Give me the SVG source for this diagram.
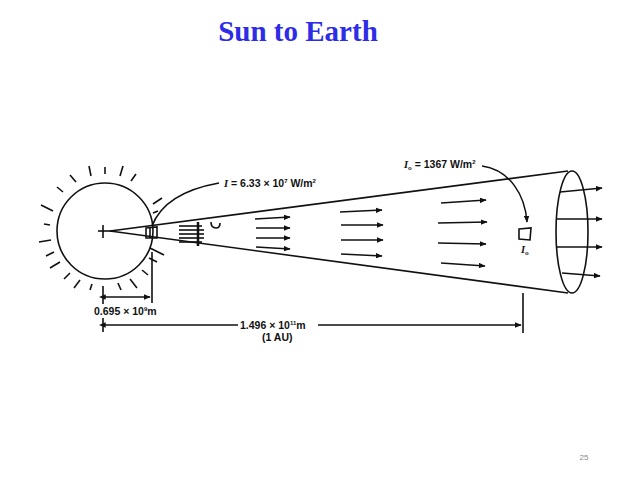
<svg xmlns="http://www.w3.org/2000/svg" width="638" height="478" viewBox="0 0 638 478">
<style>
.l{stroke:#111;stroke-width:1.6;fill:none}
.t{font-family:"Liberation Sans",Arial,sans-serif;font-size:10.5px;font-weight:bold;fill:#111}
.a{stroke:#111;stroke-width:1.5;fill:none;marker-end:url(#ah)}
</style>
<defs>
<marker id="ah" viewBox="0 0 10 8" refX="9" refY="4" markerWidth="7" markerHeight="6" markerUnits="userSpaceOnUse" orient="auto"><path d="M0,0L10,4L0,8z" fill="#111"/></marker>
<marker id="ahs" viewBox="0 0 10 8" refX="1" refY="4" markerWidth="7" markerHeight="6" markerUnits="userSpaceOnUse" orient="auto-start-reverse"><path d="M0,0L10,4L0,8z" fill="#111"/></marker>
</defs>
<rect width="638" height="478" fill="#fff"/>
<text x="298" y="41" text-anchor="middle" font-family="Liberation Serif,serif" font-size="29" font-weight="bold" fill="#2d2de8">Sun to Earth</text>
<g id="sun">
<circle cx="105" cy="231" r="48" class="l"/>
<line x1="98" y1="231" x2="112" y2="231" class="l"/><line x1="103" y1="225" x2="103" y2="238" class="l"/>
<g class="l">
<line x1="91" y1="176" x2="89" y2="166"/><line x1="105" y1="174" x2="105" y2="167"/><line x1="120" y1="176" x2="123" y2="166"/>
<line x1="131" y1="181" x2="136" y2="174"/><line x1="76" y1="182" x2="70" y2="175"/><line x1="63" y1="192" x2="57" y2="187"/>
<line x1="153" y1="204" x2="162" y2="198"/><line x1="153" y1="213" x2="158" y2="211"/>
<line x1="53" y1="211" x2="41" y2="205"/><line x1="50" y1="225" x2="44" y2="224"/><line x1="51" y1="240" x2="39" y2="242"/>
<line x1="54" y1="252" x2="46" y2="256"/><line x1="60" y1="262" x2="50" y2="268"/><line x1="70" y1="273" x2="64" y2="279"/>
<line x1="80" y1="280" x2="74" y2="288"/><line x1="92" y1="284" x2="90" y2="290"/><line x1="118" y1="283" x2="121" y2="290"/>
<line x1="130" y1="279" x2="137" y2="288"/><line x1="142" y1="270" x2="148" y2="275"/><line x1="149" y1="258" x2="157" y2="262"/>
<line x1="150" y1="248" x2="164" y2="255"/>
</g>
</g>
<g id="cone">
<line x1="110" y1="231" x2="568" y2="171" class="l"/>
<line x1="110" y1="231" x2="568" y2="293" class="l"/>
<ellipse cx="572" cy="232" rx="16" ry="61" class="l"/>
<path d="M146,228 L157,227 L157,238 L146,238 Z" class="l"/>
<line x1="150" y1="228" x2="150" y2="238" class="l"/>
<path d="M519,229 L531,228 L530,240 L519,239 Z" class="l"/>
</g>
<g id="connectors">
<g stroke="#111" stroke-width="1.6">
<line x1="179" y1="226" x2="202" y2="226"/><line x1="179" y1="230" x2="204" y2="230"/><line x1="179" y1="234" x2="204" y2="234"/><line x1="179" y1="238" x2="204" y2="238"/><line x1="179" y1="242" x2="202" y2="242"/>
<line x1="198" y1="222" x2="198" y2="246" stroke-width="2.5"/>
</g>
<path d="M211,222 q0,6 5,6 q4,0 4,-5" class="l" stroke-width="2"/>
<line x1="255" y1="219" x2="290" y2="217" class="a"/><line x1="256" y1="228" x2="290" y2="228" class="a"/><line x1="256" y1="238" x2="290" y2="238" class="a"/><line x1="256" y1="247" x2="290" y2="249" class="a"/>
<line x1="340" y1="212" x2="382" y2="210" class="a"/><line x1="341" y1="225" x2="383" y2="225" class="a"/><line x1="341" y1="240" x2="383" y2="240" class="a"/><line x1="341" y1="254" x2="382" y2="256" class="a"/>
<line x1="441" y1="203" x2="486" y2="200" class="a"/><line x1="438" y1="223" x2="487" y2="222" class="a"/><line x1="438" y1="243" x2="486" y2="244" class="a"/><line x1="441" y1="263" x2="485" y2="266" class="a"/>
<line x1="560" y1="192" x2="602" y2="188" class="a"/><line x1="557" y1="219" x2="602" y2="219" class="a"/><line x1="557" y1="247" x2="602" y2="247" class="a"/><line x1="562" y1="273" x2="600" y2="276" class="a"/>
<path d="M219,183 C180,190 160,205 152,226" class="l"/>
<path d="M482,166 C510,170 525,195 527,222" class="a"/>
<line x1="103" y1="286" x2="103" y2="304" class="l"/>
<line x1="103" y1="318" x2="103" y2="332" class="l"/>
<line x1="152" y1="252" x2="152" y2="303" class="l"/>
<line x1="105" y1="297" x2="150" y2="297" class="l" marker-start="url(#ahs)" marker-end="url(#ah)"/>
<line x1="523" y1="293" x2="523" y2="333" class="l"/>
<line x1="105" y1="325" x2="238" y2="325" class="l" marker-start="url(#ahs)"/>
<line x1="318" y1="325" x2="521" y2="325" class="l" marker-end="url(#ah)"/>
</g>
<g id="labels">
<text x="224" y="187" class="t"><tspan font-family="Liberation Serif,serif" font-style="italic">I</tspan> = 6.33 × 10<tspan font-size="6" dy="-4">7</tspan><tspan dy="4"> W/m</tspan><tspan font-size="6" dy="-4">2</tspan></text>
<text x="404" y="168" class="t"><tspan font-family="Liberation Serif,serif" font-style="italic">I</tspan><tspan font-size="6" dy="2">o</tspan><tspan dy="-2"> = 1367 W/m</tspan><tspan font-size="6" dy="-4">2</tspan></text>
<text x="521" y="253" class="t"><tspan font-family="Liberation Serif,serif" font-style="italic">I</tspan><tspan font-size="6" dy="2">o</tspan></text>
<text x="94" y="315" class="t">0.695 × 10<tspan font-size="6" dy="-4">9</tspan><tspan dy="4">m</tspan></text>
<text x="240" y="329" class="t">1.496 × 10<tspan font-size="6" dy="-4">11</tspan><tspan dy="4">m</tspan></text>
<text x="262" y="341" class="t">(1 AU)</text>
<text x="584" y="460" font-family="Liberation Sans,sans-serif" font-size="8" fill="#888" text-anchor="middle">25</text>
</g>
</svg>
